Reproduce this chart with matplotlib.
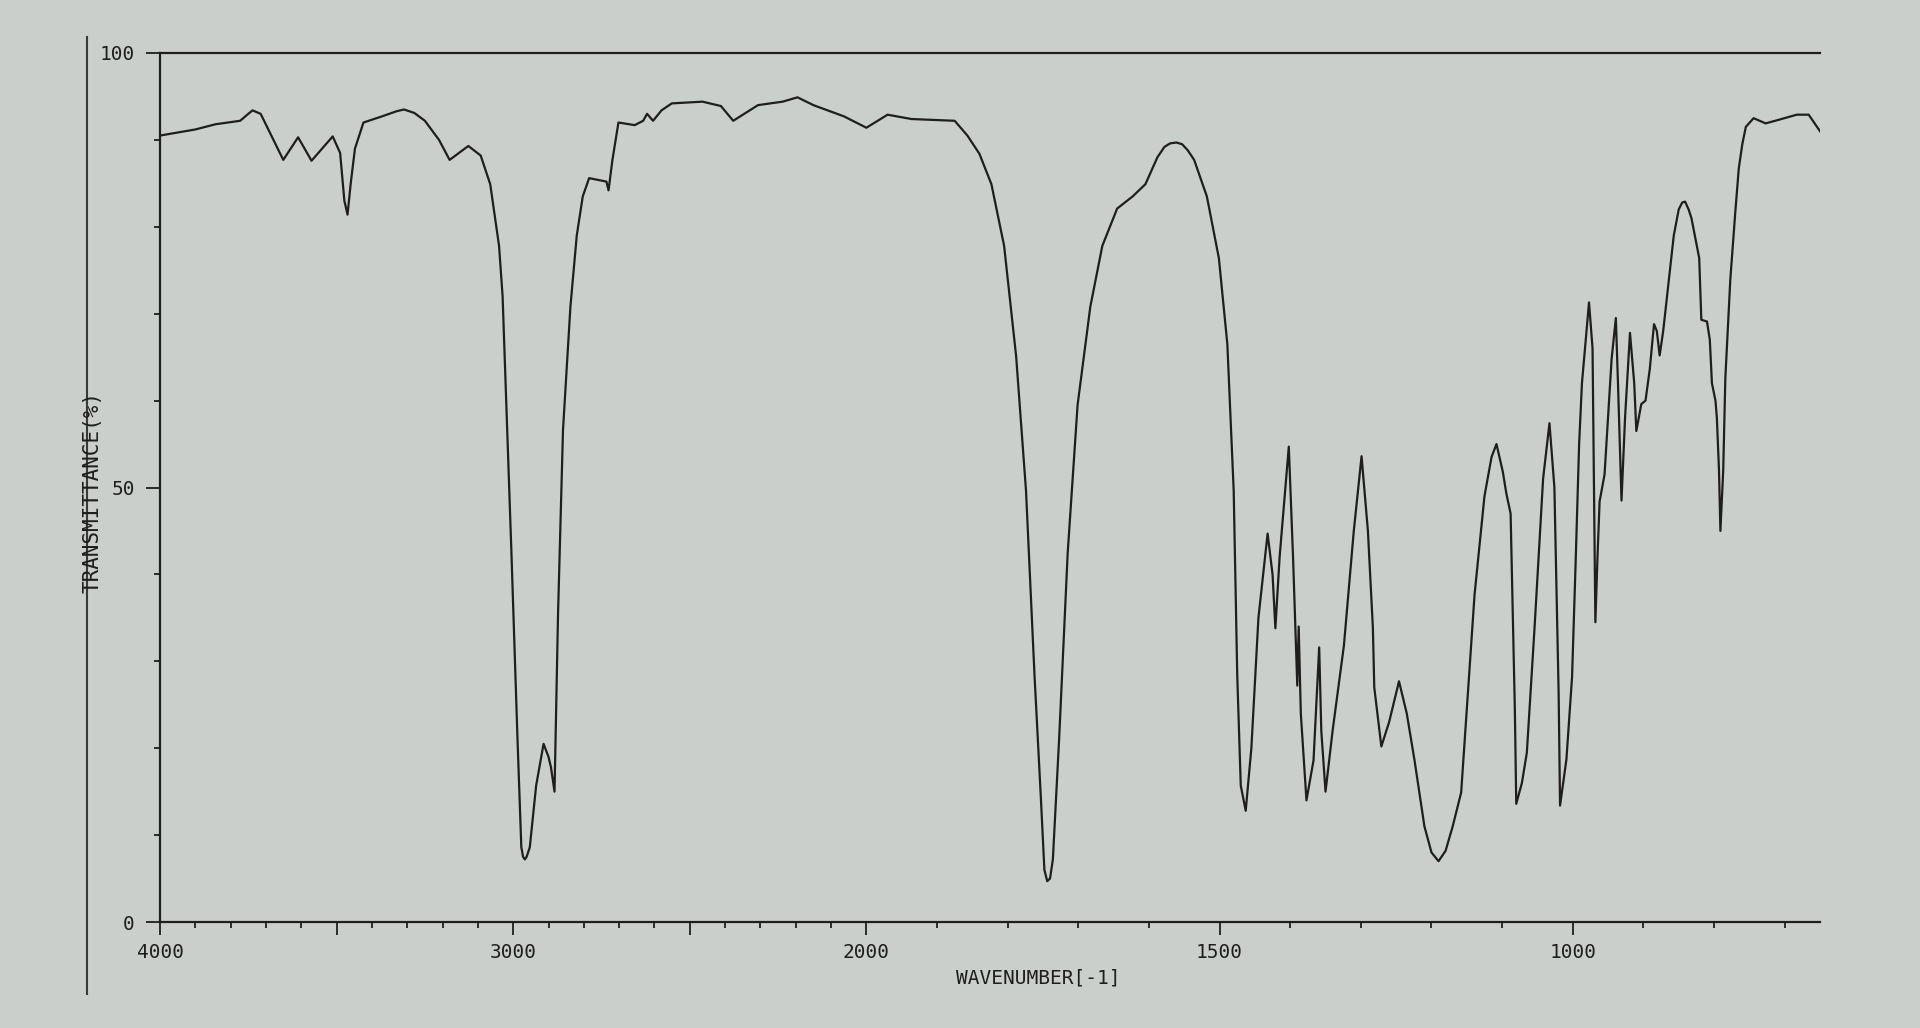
import numpy as np
import matplotlib.pyplot as plt
from matplotlib.lines import Line2D

# IR spectrum (wavenumber in cm-1, transmittance in %)
wavenumber = [4000, 3900, 3843, 3773, 3750, 3738, 3715, 3651, 3609, 3571, 3511, 3490, 3478,
              3469, 3460, 3448, 3424, 3372, 3330, 3309, 3280, 3250, 3210, 3180, 3140, 3127,
              3092, 3065, 3040, 3030, 3023, 3015, 3005, 2988, 2977, 2972, 2967, 2962, 2953,
              2935, 2914, 2900, 2893, 2883, 2873, 2859, 2838, 2820, 2803, 2785, 2736, 2730,
              2719, 2702, 2656, 2632, 2621, 2604, 2580, 2551, 2464, 2412, 2377, 2307, 2237,
              2195, 2150, 2063, 2000, 1970, 1936, 1875, 1857, 1840, 1823, 1805, 1788, 1774,
              1762, 1753, 1748, 1744, 1740, 1736, 1727, 1715, 1701, 1683, 1666, 1645, 1623,
              1605, 1588, 1578, 1570, 1561, 1553, 1545, 1536, 1518, 1501, 1489, 1480, 1475,
              1470, 1463, 1455, 1445, 1432, 1425, 1421, 1415, 1402, 1396, 1390, 1388, 1385,
              1377, 1367, 1359, 1356, 1350, 1340, 1324, 1310, 1299, 1290, 1283, 1281, 1271,
              1260, 1246, 1235, 1224, 1210, 1200, 1190, 1180, 1170, 1158, 1139, 1125, 1115,
              1108, 1099, 1094, 1088, 1082, 1080, 1072, 1065, 1054, 1042, 1033, 1026, 1020,
              1018, 1009, 1001, 996, 991, 987, 977, 972, 969, 968, 965, 962, 955, 945, 939,
              936, 931, 926, 919, 913, 910, 903, 897, 891, 885, 881, 877, 872, 864, 857,
              850, 845, 841, 836, 832, 821, 818, 810, 806, 803, 798, 796, 793, 791, 787,
              784, 777, 770, 765, 760, 755, 744, 727, 709, 683, 666, 650]
transmittance = [90.5, 91.2, 91.8, 92.2, 93.0, 93.4, 93.0, 87.7, 90.3, 87.6, 90.4, 88.5, 83.0,
                 81.4, 85.0, 89.0, 92.0, 92.7, 93.3, 93.5, 93.1, 92.2, 90.0, 87.7, 88.9, 89.3,
                 88.2, 84.9, 77.8, 72.0, 63.7, 54.0, 42.5, 21.3, 8.6, 7.5, 7.2, 7.5, 8.6,
                 15.7, 20.5, 19.0, 17.8, 15.0, 35.5, 56.6, 70.8, 79.0, 83.5, 85.6, 85.2, 84.2,
                 87.7, 92.0, 91.7, 92.2, 93.0, 92.2, 93.4, 94.2, 94.4, 93.9, 92.2, 94.0, 94.4,
                 94.9, 94.0, 92.7, 91.4, 92.9, 92.4, 92.2, 90.5, 88.4, 84.9, 77.8, 65.1, 49.6,
                 28.4, 14.3, 6.0, 4.7, 5.0, 7.2, 21.3, 42.5, 59.5, 70.8, 77.8, 82.1, 83.5,
                 84.9, 88.0, 89.2, 89.6, 89.7, 89.5, 88.8, 87.7, 83.5, 76.4, 66.5, 49.6, 28.4,
                 15.7, 12.8, 20.0, 35.0, 44.7, 40.0, 33.8, 42.0, 54.7, 42.0, 27.2, 34.0, 24.0,
                 14.0, 18.6, 31.6, 22.0, 15.0, 22.0, 31.8, 45.0, 53.6, 45.0, 33.9, 27.0, 20.2,
                 23.0, 27.7, 24.0, 18.6, 11.0, 8.0, 7.0, 8.2, 11.0, 14.9, 37.7, 49.0, 53.5,
                 55.0, 51.8, 49.3, 47.0, 24.5, 13.6, 16.0, 19.5, 34.0, 51.0, 57.4, 50.0, 26.3,
                 13.4, 18.7, 28.2, 41.2, 55.0, 62.0, 71.3, 66.0, 42.2, 34.5, 42.0, 48.4, 51.5,
                 64.8, 69.5, 62.0, 48.5, 58.0, 67.8, 62.0, 56.5, 59.6, 60.0, 63.6, 68.8, 68.0,
                 65.2, 68.0, 73.9, 79.0, 82.0, 82.8, 82.9, 82.0, 81.0, 76.4, 69.3, 69.1, 67.0,
                 62.0, 60.0, 58.0, 52.0, 45.0, 52.0, 62.6, 73.9, 81.6, 86.7, 89.5, 91.5, 92.5,
                 91.9, 92.3, 92.9, 92.9, 91.0]

x_major = [4000, 3500, 3000, 2500, 2000, 1500, 1000]
x_labels = ['4000', '', '3000', '', '2000', '1500', '1000']
x_minor = [w for w in range(3900, 650, -100) if w not in x_major]
y_major = [0, 50, 100]
y_labels = ['0', '50', '100']
y_minor = [10, 20, 30, 40, 60, 70, 80, 90]

bg = '#cbcfcb'
ink = '#1e1e1e'

plt.rcParams['font.family'] = ['DejaVu Sans Mono', 'DejaVu Sans']


# below 2000 cm-1 the chart paper is expanded twice
def fwd(x):
    x = np.asarray(x, dtype=float)
    return np.where(x >= 2000, x, 2000 - 2 * (2000 - x))


def inv(u):
    u = np.asarray(u, dtype=float)
    return np.where(u >= 2000, u, 2000 - (2000 - u) / 2)


fig = plt.figure(figsize=(19.2, 10.28), dpi=100, facecolor=bg)
ax = fig.add_axes([160 / 1920, 1 - 922 / 1028, (1820 - 160) / 1920, (922 - 53) / 1028])
ax.set_facecolor(bg)

ax.plot(wavenumber, transmittance, color=ink, lw=1.6)

ax.set_xscale('function', functions=(fwd, inv))
ax.set_xlim(4000, 650)
ax.set_ylim(0, 100)

ax.set_xticks(x_major, labels=x_labels)
ax.set_xticks(x_minor, minor=True)
ax.set_yticks(y_major, labels=y_labels)
ax.set_yticks(y_minor, minor=True)

ax.tick_params(axis='x', which='major', direction='out', length=9, width=1.3,
               colors=ink, labelsize=14, pad=6)
ax.tick_params(axis='x', which='minor', direction='out', length=4.5, width=1.3, colors=ink)
ax.tick_params(axis='y', which='major', direction='out', length=10, width=1.3,
               colors=ink, labelsize=14, pad=8)
ax.tick_params(axis='y', which='minor', direction='out', length=4, width=1.3, colors=ink)

for side in ['left', 'bottom', 'top']:
    ax.spines[side].set_color(ink)
    ax.spines[side].set_linewidth(1.6)
ax.spines['right'].set_visible(False)

fig.text(1038 / 1920, 1 - 978 / 1028, 'WAVENUMBER[-1]', ha='center', va='center',
         fontsize=14, color=ink)
fig.text(93 / 1920, 1 - 492 / 1028, 'TRANSMITTANCE(%)', ha='center', va='center',
         rotation=90, fontsize=15, color=ink)

# outer border line of the plotter frame
fig.add_artist(Line2D([87 / 1920, 87 / 1920], [1 - 994 / 1028, 1 - 37 / 1028],
                      transform=fig.transFigure, color='#3a3a3a', lw=1.5))

fig.savefig('out.png', dpi=100, facecolor=bg)
